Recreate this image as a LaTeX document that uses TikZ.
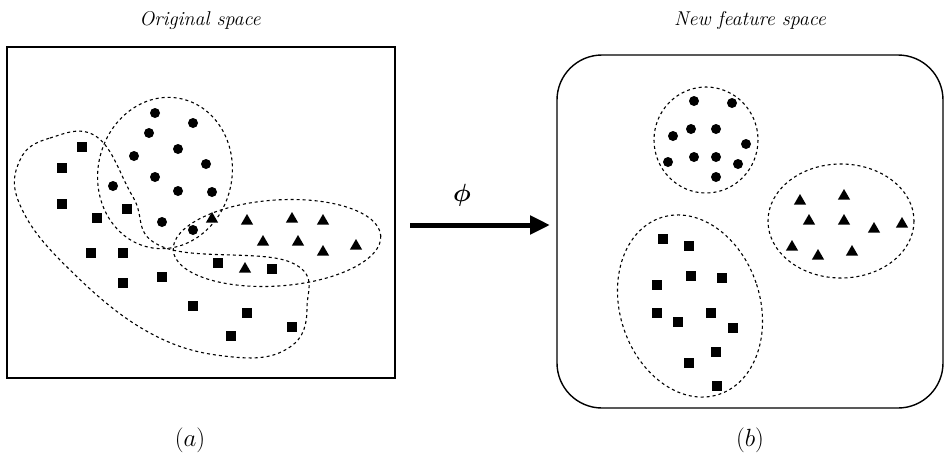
\documentclass[tikz,border=0pt]{standalone}
\usepackage{amsmath}
\usepackage{bm}
\usetikzlibrary{shapes,arrows.meta,positioning}
\tikzset{
  sq/.style={fill=black, rectangle, minimum size=10pt, inner sep=0pt},
  dot/.style={fill=black, circle, minimum size=10pt, inner sep=0pt},
  tri/.style={fill=black, regular polygon, regular polygon sides=3, minimum size=14pt, inner sep=0pt},
  grp/.style={draw, dashed, line width=1.1pt},
  title/.style={font=\fontsize{20}{24}\selectfont\itshape},
  tag/.style={font=\fontsize{32}{38}\selectfont}
}
\begin{document}
\begin{tikzpicture}[x=1pt, y=-1pt]
  \useasboundingbox (0,0) rectangle (950,464);
  % left panel
  \draw[line width=1.4pt] (7,47) rectangle (395,378);
  \node[title] (ta) at (200,20) {Original space};
  \node[tag] (la) at (190,440) {$(a)$};
  \draw[grp] (165,173) ellipse [x radius=67, y radius=76, rotate=-12];
  \draw[grp] (277,243) ellipse [x radius=104, y radius=43, rotate=4];
  \draw[grp] plot[smooth cycle, tension=0.7] coordinates {(20,160) (50,138) (97,137) (133,197) (163,247) (290,262) (307,307) (290,347) (233,357) (150,333) (67,267) (20,205)};
  \foreach \x/\y in {155/113,193/123,149/133,178/149,134/156,206/164,155/177,178/191,212/192,113/186,162/222,193/230}
    \node[dot] at (\x,\y) {};
  \foreach \x/\y in {82/147,62/168,62/204,97/218,127/209,91/253,123/253,123/283,162/277,193/306,218/263,272/269,247/313,231/336,292/327}
    \node[sq] at (\x,\y) {};
  \foreach \x/\y in {212/219,247/221,292/219,323/221,263/242,298/242,323/252,356/246,245/269}
    \node[tri] at (\x,\y) {};
  % right panel
  \draw[line width=1.4pt, rounded corners=45pt] (557,55) rectangle (943,408);
  \node[title] (tb) at (750,20) {New feature space};
  \node[tag] (lb) at (750,440) {$(b)$};
  \draw[grp] (706,140) ellipse [x radius=52, y radius=53];
  \draw[grp] (841,221) ellipse [x radius=73, y radius=57];
  \draw[grp] (690,306) ellipse [x radius=70, y radius=93, rotate=18];
  \foreach \x/\y in {694/101,732/103,673/136,691/129,716/129,746/144,668/162,694/157,716/157,738/164,716/177}
    \node[dot] at (\x,\y) {};
  \foreach \x/\y in {800/201,844/196,809/221,844/221,874/229,902/224,792/247,818/256,852/252}
    \node[tri] at (\x,\y) {};
  \foreach \x/\y in {663/239,689/246,691/276,722/278,657/285,657/313,678/322,711/313,733/328,716/352,689/363,717/386}
    \node[sq] at (\x,\y) {};
  % mapping
  \coordinate (from) at (410,225);
  \coordinate (to) at (550,225);
  \draw[line width=5pt, -{Triangle[length=20pt, width=18pt]}] (from) -- (to);
  \node[font=\fontsize{24}{28}\selectfont] (phi) at (462,195) {$\bm{\phi}$};
\end{tikzpicture}
\end{document}
